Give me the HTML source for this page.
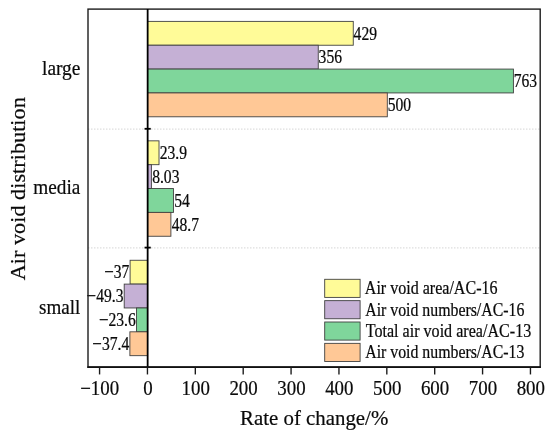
<!DOCTYPE html><html><head><meta charset="utf-8"><title>chart</title><style>html,body{margin:0;padding:0;background:#fff}svg{display:block}text{font-family:"Liberation Serif","Times New Roman",serif;fill:#0a0a0a;stroke:#0a0a0a;stroke-width:0.2px}</style></head><body>
<svg width="550" height="436" viewBox="0 0 550 436">
<rect x="0" y="0" width="550" height="436" fill="#fff"/>
<line x1="88.0" x2="540.2" y1="129.10" y2="129.10" stroke="#dedede" stroke-width="1.2" stroke-dasharray="1.5 1.5"/>
<line x1="88.0" x2="540.2" y1="247.90" y2="247.90" stroke="#dedede" stroke-width="1.2" stroke-dasharray="1.5 1.5"/>
<rect x="147.45" y="21.38" width="205.81" height="23.85" fill="#FFFB98" stroke="#404040" stroke-width="0.9"/>
<text transform="translate(353.61,39.51) scale(1,1.14)" font-size="15.6" text-anchor="start" >429</text>
<rect x="147.45" y="45.23" width="170.80" height="23.85" fill="#C5B0D5" stroke="#404040" stroke-width="0.9"/>
<text transform="translate(318.60,63.37) scale(1,1.14)" font-size="15.6" text-anchor="start" >356</text>
<rect x="147.45" y="69.08" width="365.96" height="23.85" fill="#7FD69B" stroke="#404040" stroke-width="0.9"/>
<text transform="translate(513.76,87.22) scale(1,1.14)" font-size="15.6" text-anchor="start" >763</text>
<rect x="147.45" y="92.94" width="239.85" height="23.85" fill="#FFC896" stroke="#404040" stroke-width="0.9"/>
<text transform="translate(387.65,111.07) scale(1,1.14)" font-size="15.6" text-anchor="start" >500</text>
<rect x="147.45" y="140.84" width="11.56" height="23.85" fill="#FFFB98" stroke="#404040" stroke-width="0.9"/>
<text transform="translate(159.76,158.98) scale(1,1.14)" font-size="15.6" text-anchor="start" >23.9</text>
<rect x="147.45" y="164.70" width="3.95" height="23.85" fill="#C5B0D5" stroke="#404040" stroke-width="0.9"/>
<text transform="translate(152.15,182.83) scale(1,1.14)" font-size="15.6" text-anchor="start" >8.03</text>
<rect x="147.45" y="188.55" width="25.99" height="23.85" fill="#7FD69B" stroke="#404040" stroke-width="0.9"/>
<text transform="translate(174.19,206.69) scale(1,1.14)" font-size="15.6" text-anchor="start" >54</text>
<rect x="147.45" y="212.40" width="23.45" height="23.85" fill="#FFC896" stroke="#404040" stroke-width="0.9"/>
<text transform="translate(171.65,230.54) scale(1,1.14)" font-size="15.6" text-anchor="start" >48.7</text>
<rect x="130.09" y="260.26" width="17.36" height="23.85" fill="#FFFB98" stroke="#404040" stroke-width="0.9"/>
<text transform="translate(129.39,278.40) scale(1,1.14)" font-size="15.6" text-anchor="end"><tspan font-size="17.00">−</tspan>37</text>
<rect x="124.20" y="284.11" width="23.25" height="23.85" fill="#C5B0D5" stroke="#404040" stroke-width="0.9"/>
<text transform="translate(123.50,302.25) scale(1,1.14)" font-size="15.6" text-anchor="end"><tspan font-size="17.00">−</tspan>49.3</text>
<rect x="136.50" y="307.97" width="10.95" height="23.85" fill="#7FD69B" stroke="#404040" stroke-width="0.9"/>
<text transform="translate(135.80,326.10) scale(1,1.14)" font-size="15.6" text-anchor="end"><tspan font-size="17.00">−</tspan>23.6</text>
<rect x="129.89" y="331.82" width="17.56" height="23.85" fill="#FFC896" stroke="#404040" stroke-width="0.9"/>
<text transform="translate(129.19,349.96) scale(1,1.14)" font-size="15.6" text-anchor="end"><tspan font-size="17.00">−</tspan>37.4</text>
<rect x="88.0" y="9.1" width="452.20000000000005" height="358.04999999999995" fill="none" stroke="#1a1a1a" stroke-width="1.38"/>
<line x1="147.64999999999998" x2="147.64999999999998" y1="9.1" y2="367.15" stroke="#000" stroke-width="1.8"/>
<line x1="144.54999999999998" x2="150.75" y1="128.80" y2="128.80" stroke="#000" stroke-width="1.8"/>
<line x1="144.54999999999998" x2="150.75" y1="247.60" y2="247.60" stroke="#000" stroke-width="1.8"/>
<line x1="87.31" x2="540.8900000000001" y1="367.15" y2="367.15" stroke="#111" stroke-width="1.7"/>
<line x1="99.57" x2="99.57" y1="367.15" y2="374.45" stroke="#1a1a1a" stroke-width="1.38"/>
<text transform="translate(99.67,395.3) scale(0.96,1.04)" font-size="19.7" text-anchor="middle">−100</text>
<line x1="147.45" x2="147.45" y1="367.15" y2="374.45" stroke="#1a1a1a" stroke-width="1.38"/>
<text transform="translate(147.85,395.3) scale(0.96,1.04)" font-size="19.7" text-anchor="middle">0</text>
<line x1="195.32" x2="195.32" y1="367.15" y2="374.45" stroke="#1a1a1a" stroke-width="1.38"/>
<text transform="translate(195.72,395.3) scale(0.96,1.04)" font-size="19.7" text-anchor="middle">100</text>
<line x1="243.20" x2="243.20" y1="367.15" y2="374.45" stroke="#1a1a1a" stroke-width="1.38"/>
<text transform="translate(243.60,395.3) scale(0.96,1.04)" font-size="19.7" text-anchor="middle">200</text>
<line x1="291.07" x2="291.07" y1="367.15" y2="374.45" stroke="#1a1a1a" stroke-width="1.38"/>
<text transform="translate(291.47,395.3) scale(0.96,1.04)" font-size="19.7" text-anchor="middle">300</text>
<line x1="338.95" x2="338.95" y1="367.15" y2="374.45" stroke="#1a1a1a" stroke-width="1.38"/>
<text transform="translate(339.35,395.3) scale(0.96,1.04)" font-size="19.7" text-anchor="middle">400</text>
<line x1="386.82" x2="386.82" y1="367.15" y2="374.45" stroke="#1a1a1a" stroke-width="1.38"/>
<text transform="translate(387.22,395.3) scale(0.96,1.04)" font-size="19.7" text-anchor="middle">500</text>
<line x1="434.70" x2="434.70" y1="367.15" y2="374.45" stroke="#1a1a1a" stroke-width="1.38"/>
<text transform="translate(435.10,395.3) scale(0.96,1.04)" font-size="19.7" text-anchor="middle">600</text>
<line x1="482.57" x2="482.57" y1="367.15" y2="374.45" stroke="#1a1a1a" stroke-width="1.38"/>
<text transform="translate(482.97,395.3) scale(0.96,1.04)" font-size="19.7" text-anchor="middle">700</text>
<line x1="530.45" x2="530.45" y1="367.15" y2="374.45" stroke="#1a1a1a" stroke-width="1.38"/>
<text transform="translate(530.85,395.3) scale(0.96,1.04)" font-size="19.7" text-anchor="middle">800</text>
<text transform="translate(80.4,75.03) scale(0.985,1.06)" font-size="19.7" text-anchor="end">large</text>
<text transform="translate(80.4,194.40) scale(0.978,1.06)" font-size="19.7" text-anchor="end">media</text>
<text transform="translate(80.4,314.02) scale(0.968,1.06)" font-size="19.7" text-anchor="end">small</text>
<text transform="translate(314.20,424.70) scale(1,1.04)" font-size="20.85" text-anchor="middle" >Rate of change/%</text>
<text transform="translate(24.6,188.75) rotate(-90) scale(1.022,1)" font-size="21.8" text-anchor="middle">Air void distribution</text>
<rect x="324.7" y="279.30" width="35.4" height="18.1" fill="#FFFB98" stroke="#404040" stroke-width="0.9"/>
<text transform="translate(364.8,294.30) scale(1.0,1.19)" font-size="16.05">Air void area/AC-16</text>
<rect x="324.7" y="300.65" width="35.4" height="18.1" fill="#C5B0D5" stroke="#404040" stroke-width="0.9"/>
<text transform="translate(365.2,315.57) scale(0.987,1.19)" font-size="16.05">Air void numbers/AC-16</text>
<rect x="324.7" y="322.00" width="35.4" height="18.1" fill="#7FD69B" stroke="#404040" stroke-width="0.9"/>
<text transform="translate(365.7,336.84) scale(1.003,1.19)" font-size="16.05">Total air void area/AC-13</text>
<rect x="324.7" y="343.35" width="35.4" height="18.1" fill="#FFC896" stroke="#404040" stroke-width="0.9"/>
<text transform="translate(365.2,358.11) scale(0.987,1.19)" font-size="16.05">Air void numbers/AC-13</text>
</svg></body></html>
